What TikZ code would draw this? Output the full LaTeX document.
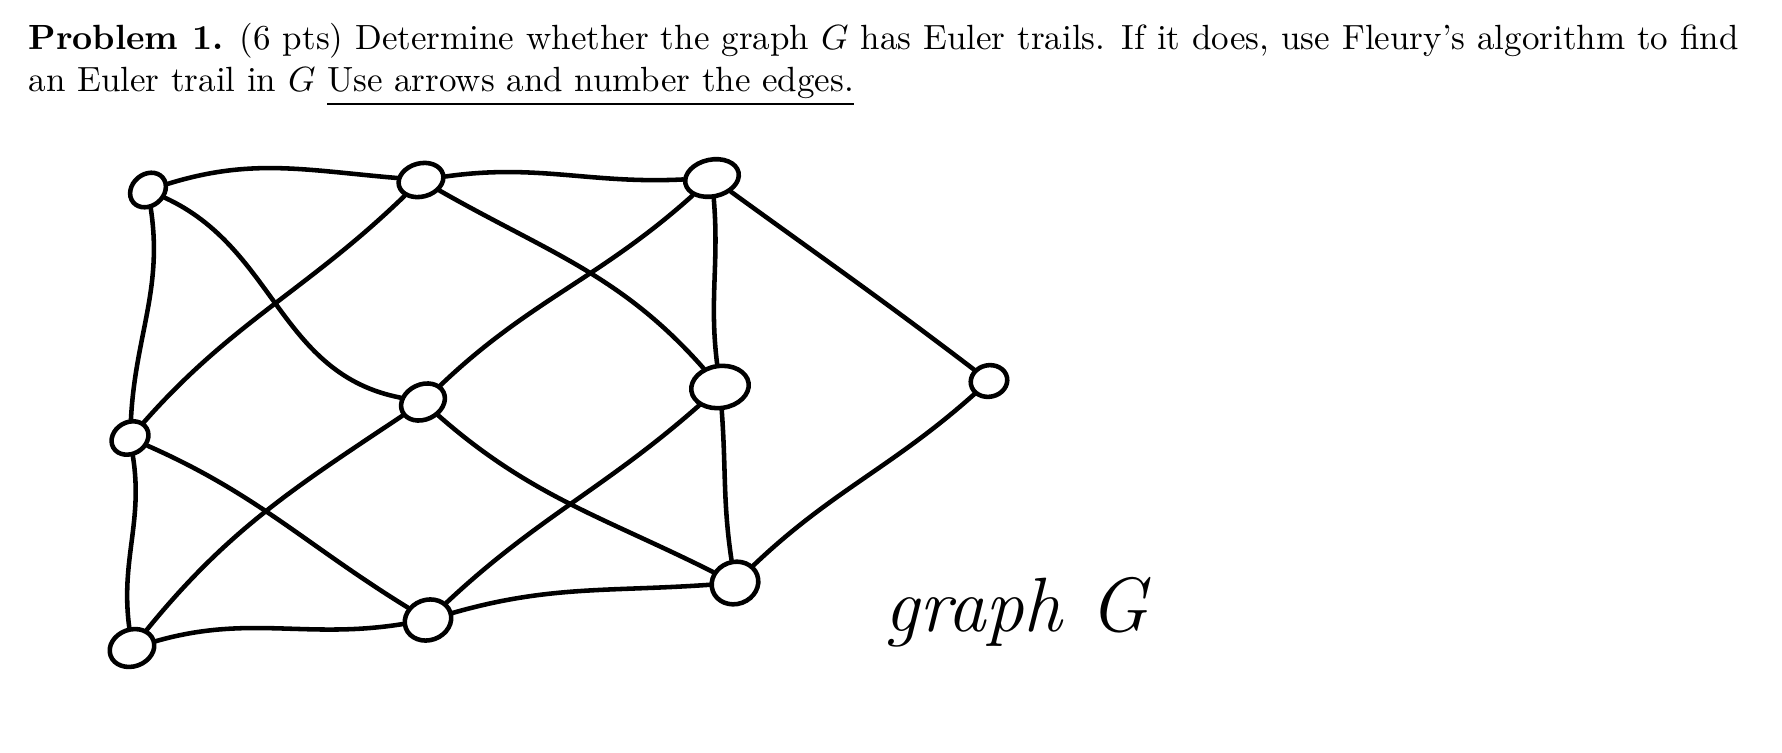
\documentclass[tikz,border=0pt]{standalone}
\usepackage{tikz}
\usetikzlibrary{shapes.geometric}

\begin{document}
\begin{tikzpicture}[
  x=0.2857pt, y=0.2857pt,
  vtx/.style={ellipse, draw, line width=1.3pt, inner sep=0pt},
  hand/.style={line width=1.3pt, line cap=round}]

    \useasboundingbox (0,0) rectangle (1782,-752);

    \node[anchor=north west, inner sep=0pt, text width=488.6pt, align=justify] (prob) at (28,-23)
      {\textbf{Problem 1.} (6 pts) Determine whether the graph $G$ has Euler trails. If it does, use Fleury's algorithm to find\linebreak
       an Euler trail in $G$ \underline{Use arrows and number the edges.}};

    % vertices
    \node[vtx, minimum width=11pt, minimum height=9pt, rotate=40] at (148,-190) (v1) {};
    \node[vtx, minimum width=13pt, minimum height=9.5pt, rotate=15] at (421,-180) (v2) {};
    \node[vtx, minimum width=15.5pt, minimum height=10.5pt, rotate=12] at (712,-178) (v3) {};
    \node[vtx, minimum width=11pt, minimum height=9pt, rotate=30] at (130,-438) (v4) {};
    \node[vtx, minimum width=13pt, minimum height=10pt, rotate=25] at (423,-402) (v5) {};
    \node[vtx, minimum width=16.5pt, minimum height=12pt, rotate=8] at (720,-387) (v6) {};
    \node[vtx, minimum width=10.5pt, minimum height=9pt, rotate=12] at (989,-381) (v7) {};
    \node[vtx, minimum width=13pt, minimum height=10.5pt, rotate=20] at (132,-648) (v8) {};
    \node[vtx, minimum width=13.5pt, minimum height=11.5pt, rotate=20] at (428,-620) (v9) {};
    \node[vtx, minimum width=13.5pt, minimum height=12pt, rotate=20] at (735,-583) (v10) {};

    % edges
    \draw[hand] (v1) to[out=10, in=172] (v2);
    \draw[hand] (v2) to[out=5, in=180] (v3);
    \draw[hand] (v1) to[out=-88, in=82] (v4);
    \draw[hand] (v4) to[out=-87, in=93] (v8);
    \draw[hand] (v1) to[out=-30, in=165] (v5);
    \draw[hand] (v2) to[out=-138, in=45] (v4);
    \draw[hand] (v2) to[out=-32, in=130] (v6);
    \draw[hand] (v3) to[out=-140, in=40] (v5);
    \draw[hand] (v3) to[out=-88, in=95] (v6);
    \draw[hand] (v3) to[out=-38, in=141] (v7);
    \draw[hand] (v7) to[out=-140, in=40] (v10);
    \draw[hand] (v5) to[out=-150, in=48] (v8);
    \draw[hand] (v5) to[out=-45, in=150] (v10);
    \draw[hand] (v6) to[out=-140, in=40] (v9);
    \draw[hand] (v6) to[out=-88, in=93] (v10);
    \draw[hand] (v4) to[out=-28, in=145] (v9);
    \draw[hand] (v8) to[out=12, in=185] (v9);
    \draw[hand] (v9) to[out=12, in=180] (v10);

    \node[anchor=base west, font=\fontsize{22}{26}\selectfont\itshape] (lbl) at (872,-631) {graph G};

\end{tikzpicture}
\end{document}
